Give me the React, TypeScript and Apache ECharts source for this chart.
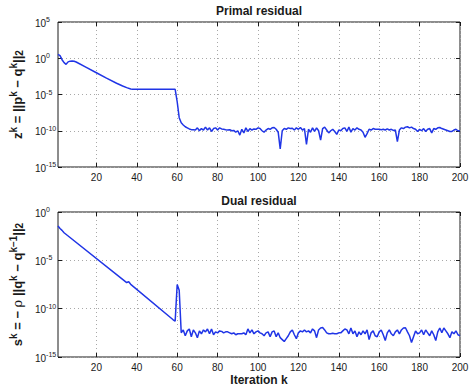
import React, { useEffect, useRef } from "react";
import * as echarts from "echarts";

// x tick values
const xTicks = [20, 40, 60, 80, 100, 120, 140, 160, 180, 200];

// Primal residual: head (iteration, log10 value) then tail from k = 69
const primalHeadK = [1, 2, 3, 4, 5, 6, 7, 8, 9, 10, 15, 20, 25, 30, 33, 35, 37, 38, 59, 60, 61, 62, 63, 64, 65, 66, 67, 68];
const primalHeadExp = [0.54, 0.35, -0.2, -0.6, -0.84, -0.5, -0.4, -0.38, -0.42, -0.52, -1.25, -2.0, -2.75, -3.45, -3.82, -4.05, -4.25, -4.28, -4.28, -6.0, -8.2, -8.9, -9.2, -9.45, -9.6, -9.75, -9.85, -9.85];
const primalTailStart = 69;
const primalTailExp = [
  -9.9, -9.6, -10.0, -9.7, -9.9, -9.5, -9.9, -9.6, -10.1, -9.7,
  -9.6, -9.9, -9.6, -9.75, -9.8, -9.85, -9.9, -9.85, -10.0, -9.95,
  -10.2, -10.0, -10.6, -9.8, -10.3, -9.6, -10.1, -9.7, -9.9, -9.75,
  -9.8, -9.6, -9.7, -10.0, -10.2, -9.9, -9.7, -9.8, -9.6, -9.55,
  -9.8, -10.2, -12.5, -10.0, -9.7, -9.8, -9.6, -9.7, -9.65, -9.9,
  -9.6, -9.8, -9.55, -9.9, -9.7, -11.9, -9.8, -10.2, -9.6, -10.1,
  -9.6, -10.0, -11.3, -9.7, -9.5, -9.9, -10.3, -10.0, -9.8, -10.1,
  -10.5, -9.9, -10.0, -9.7, -9.6, -10.1, -9.5, -10.2, -9.7, -9.9,
  -9.6, -9.8, -9.9, -10.2, -10.9, -10.4, -9.8, -9.9, -9.7, -9.8,
  -9.8, -9.8, -9.85, -9.8, -9.9, -9.75, -9.9, -9.8, -9.95, -9.9,
  -11.5, -9.9, -9.6, -9.7, -9.5, -9.45, -9.6, -9.5, -9.7, -9.8,
  -10.1, -9.8, -10.0, -9.7, -10.1, -9.8, -9.7, -10.3, -9.7, -9.8,
  -9.6, -9.55, -9.7, -9.8, -9.9, -10.0, -10.1, -10.1, -9.9, -9.8,
  -10.0, -10.0,
];

// Dual residual: head then tail from k = 63
const dualHeadK = [1, 2, 3, 4, 35, 36, 37, 58, 59, 60, 61, 62];
const dualHeadExp = [-1.45, -1.7, -1.9, -2.15, -7.3, -7.22, -7.48, -11.15, -11.3, -7.5, -8.1, -12.5];
const dualTailStart = 63;
const dualTailExp = [
  -12.2, -12.8, -12.3, -12.1, -12.9, -12.2, -12.5, -13.0, -12.3, -12.6,
  -12.2, -12.4, -12.1, -12.6, -12.1, -12.7, -12.4, -12.5, -12.3, -12.35,
  -12.5, -12.4, -12.4, -12.5, -12.6, -12.5, -12.7, -12.6, -12.6, -12.6,
  -12.5, -12.7, -12.1, -12.5, -12.2, -12.6, -12.4, -12.3, -12.5, -12.6,
  -12.8, -12.5, -12.4, -12.9, -12.4, -12.3, -12.9, -12.5, -13.0, -13.2,
  -13.4, -13.1, -12.8, -12.4, -12.2, -12.7, -13.1, -12.5, -12.3, -12.4,
  -12.2, -12.4, -12.3, -12.5, -12.1, -12.3, -13.0, -12.2, -12.0, -11.95,
  -12.2, -12.5, -12.6, -12.6, -12.55, -12.6, -12.6, -12.5, -12.5, -12.3,
  -12.1, -12.2, -12.6, -12.0, -12.6, -12.3, -12.9, -12.4, -12.7, -12.3,
  -12.6, -12.2, -13.2, -12.5, -12.3, -12.8, -12.9, -12.4, -12.2, -12.7,
  -13.3, -12.5, -12.2, -12.6, -12.8, -12.4, -12.2, -12.6, -12.2, -12.0,
  -11.97, -12.4, -12.8, -13.5, -12.9, -12.3, -12.6, -12.5, -12.2, -12.7,
  -12.2, -12.5, -12.8, -12.3, -12.7, -13.3, -12.4, -12.0, -12.5, -12.0,
  -12.3, -12.6, -13.0, -12.4, -12.6, -12.3, -12.7, -12.8,
];

const FONT = "'Liberation Sans', Arial, Helvetica, sans-serif";
const INK = "#1a1a1a";
const LINE = "#2035e6";
const GRIDC = "#a8a8a8";

function buildSeries(headK: number[], headExp: number[], tailStart: number, tailExp: number[]) {
  const out: [number, number][] = [];
  headK.forEach((k, i) => out.push([k, Math.pow(10, headExp[i])]));
  tailExp.forEach((e, i) => out.push([tailStart + i, Math.pow(10, e)]));
  return out;
}

const supLabel = (v: number) => {
  const n = Math.round(Math.log10(v));
  return "{b|10}{s|" + n + "}";
};

const labelRich = {
  b: { fontSize: 10, fontFamily: FONT, color: INK, lineHeight: 12, verticalAlign: "bottom" },
  s: { fontSize: 7, fontFamily: FONT, color: INK, lineHeight: 7, verticalAlign: "top" },
};

const nameRich = {
  m: { fontSize: 13, fontWeight: "bold", fontFamily: FONT, color: INK, lineHeight: 16, verticalAlign: "bottom" },
  u: { fontSize: 10, fontWeight: "bold", fontFamily: FONT, color: INK, lineHeight: 10, verticalAlign: "top" },
  d: { fontSize: 10, fontWeight: "bold", fontFamily: FONT, color: INK, lineHeight: 10, verticalAlign: "bottom" },
  r: { fontSize: 13, fontFamily: "'DejaVu Serif', serif", color: INK, lineHeight: 16, verticalAlign: "bottom" },
};

function xAxisDef(gridIndex: number, position: string, main: boolean, name?: string) {
  return {
    type: "value",
    gridIndex,
    position,
    min: 1,
    max: 200,
    name: name || "",
    nameLocation: "middle",
    nameGap: 17,
    nameTextStyle: { fontSize: 12, fontWeight: "bold", fontFamily: FONT, color: INK, verticalAlign: "top" },
    axisLine: { show: false },
    axisTick: { show: true, inside: true, length: 4, customValues: xTicks, lineStyle: { color: INK, width: 1 } },
    axisLabel: { show: main, customValues: xTicks, fontSize: 10, fontFamily: FONT, color: INK, margin: 5 },
    splitLine: { show: main, lineStyle: { type: [1, 3], color: GRIDC, width: 1 } },
  };
}

function yAxisDef(gridIndex: number, position: string, main: boolean, max: number, name?: string, nameGap?: number) {
  return {
    type: "log",
    logBase: 10,
    gridIndex,
    position,
    min: 1e-15,
    max,
    interval: 5,
    name: name || "",
    nameLocation: "middle",
    nameRotate: 90,
    nameGap: nameGap || 30,
    nameTextStyle: { rich: nameRich },
    axisLine: { show: false },
    axisTick: { show: true, inside: true, length: 4, lineStyle: { color: INK, width: 1 } },
    axisLabel: { show: main, formatter: supLabel, rich: labelRich, align: "left", margin: 23 },
    splitLine: { show: main, lineStyle: { type: [1, 3], color: GRIDC, width: 1 } },
    minorTick: { show: false },
  };
}

export default function App() {
  const ref = useRef<HTMLDivElement>(null);
  useEffect(() => {
    if (!ref.current) return;
    const chart = echarts.init(ref.current, undefined, { renderer: "svg" });
    const primal = buildSeries(primalHeadK, primalHeadExp, primalTailStart, primalTailExp);
    const dual = buildSeries(dualHeadK, dualHeadExp, dualTailStart, dualTailExp);
    chart.setOption({
      animation: false,
      backgroundColor: "#ffffff",
      grid: [
        { left: 58, top: 22, width: 402, height: 145, show: true, borderColor: INK, borderWidth: 1, backgroundColor: "transparent" },
        { left: 58, top: 212, width: 402, height: 145, show: true, borderColor: INK, borderWidth: 1, backgroundColor: "transparent" },
      ],
      xAxis: [
        xAxisDef(0, "bottom", true),
        xAxisDef(0, "top", false),
        xAxisDef(1, "bottom", true, "Iteration k"),
        xAxisDef(1, "top", false),
      ],
      yAxis: [
        yAxisDef(0, "left", true, 1e5, "{m|z}{u|k}{m| = ||p}{u|k}{m| − q}{u|k}{m|||}{d|2}", 33),
        yAxisDef(0, "right", false, 1e5),
        yAxisDef(1, "left", true, 1e0, "{m|s}{u|k}{m| = − }{r|ρ}{m| ||q}{u|k}{m| − q}{u|k−1}{m|||}{d|2}", 33),
        yAxisDef(1, "right", false, 1e0),
      ],
      graphic: [
        { type: "text", x: 259, y: 11, style: { text: "Primal residual", textAlign: "center", textVerticalAlign: "middle", fontSize: 12, fontWeight: "bold", fontFamily: FONT, fill: INK } },
        { type: "text", x: 259, y: 201, style: { text: "Dual residual", textAlign: "center", textVerticalAlign: "middle", fontSize: 12, fontWeight: "bold", fontFamily: FONT, fill: INK } },
      ],
      series: [
        { type: "line", xAxisIndex: 0, yAxisIndex: 0, data: primal, showSymbol: false, symbol: "none", lineStyle: { color: LINE, width: 1.5 }, itemStyle: { color: LINE } },
        { type: "line", xAxisIndex: 2, yAxisIndex: 2, data: dual, showSymbol: false, symbol: "none", lineStyle: { color: LINE, width: 1.5 }, itemStyle: { color: LINE } },
      ],
    });
    return () => chart.dispose();
  }, []);
  return <div ref={ref} style={{ position: "fixed", left: 0, top: 0, width: 474, height: 389 }} />;
}
